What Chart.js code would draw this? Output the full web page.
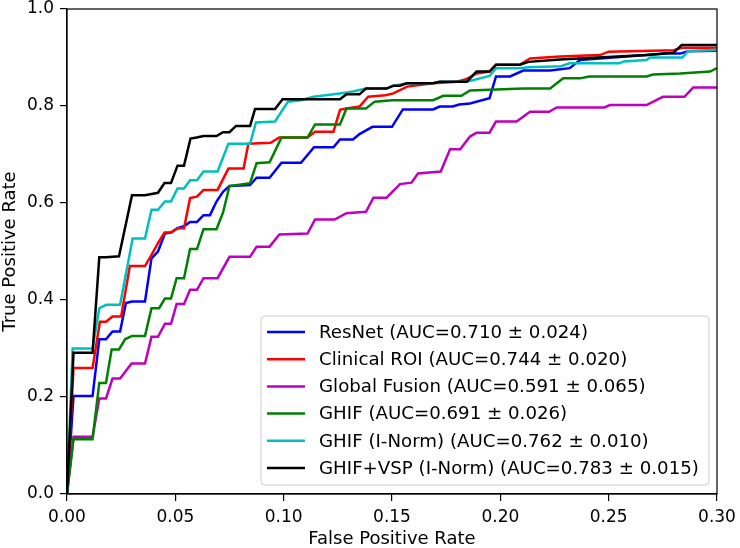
<!DOCTYPE html>
<html>
<head>
<meta charset="utf-8">
<script src="https://cdn.jsdelivr.net/npm/chart.js@4"></script>
<style>
  body { margin: 0; background: #fff; }
  #wrap { width: 740px; height: 548px; position: relative; }
</style>
</head>
<body>
<div id="wrap"><canvas id="rocChart"></canvas></div>
<script>
// ---------------- data (fpr, tpr) ----------------

const seriesLabels = [
  "ResNet (AUC=0.710 \u00b1 0.024)",
  "Clinical ROI (AUC=0.744 \u00b1 0.020)",
  "Global Fusion (AUC=0.591 \u00b1 0.065)",
  "GHIF (AUC=0.691 \u00b1 0.026)",
  "GHIF (I-Norm) (AUC=0.762 \u00b1 0.010)",
  "GHIF+VSP (I-Norm) (AUC=0.783 \u00b1 0.015)",
];
const seriesColors = ["#0000ff", "#ff0000", "#bf00bf", "#008000", "#00bfbf", "#000000"];

const xTicks = [0, 0.05, 0.1, 0.15, 0.2, 0.25, 0.3];
const yTicks = [0, 0.2, 0.4, 0.6, 0.8, 1.0];

const resnet = [[0,0],[0.003,0.202],[0.0118,0.202],[0.0149,0.319],[0.018,0.319],[0.021,0.335],[0.0245,0.335],[0.0272,0.394],[0.030,0.397],[0.036,0.397],[0.039,0.486],[0.042,0.50],[0.0452,0.537],[0.048,0.539],[0.051,0.548],[0.054,0.552],[0.0568,0.561],[0.060,0.561],[0.063,0.575],[0.066,0.575],[0.069,0.603],[0.072,0.623],[0.075,0.635],[0.0845,0.637],[0.0875,0.652],[0.0935,0.652],[0.099,0.683],[0.108,0.683],[0.114,0.715],[0.123,0.715],[0.126,0.731],[0.132,0.731],[0.135,0.742],[0.141,0.757],[0.150,0.757],[0.155,0.793],[0.169,0.793],[0.172,0.799],[0.178,0.799],[0.181,0.803],[0.186,0.805],[0.195,0.816],[0.198,0.861],[0.2045,0.861],[0.2106,0.873],[0.223,0.873],[0.232,0.878],[0.2368,0.895],[0.252,0.90],[0.2768,0.908],[0.283,0.908],[0.2866,0.913],[0.3,0.914]];

const clinicalRoi = [[0,0],[0.003,0.26],[0.0118,0.26],[0.0152,0.355],[0.018,0.355],[0.021,0.366],[0.025,0.366],[0.029,0.47],[0.036,0.47],[0.039,0.493],[0.042,0.517],[0.045,0.539],[0.048,0.539],[0.051,0.548],[0.054,0.548],[0.0568,0.61],[0.060,0.613],[0.063,0.627],[0.0695,0.627],[0.0745,0.671],[0.0815,0.671],[0.0837,0.722],[0.094,0.724],[0.098,0.735],[0.111,0.735],[0.1145,0.747],[0.123,0.747],[0.126,0.792],[0.129,0.795],[0.135,0.799],[0.139,0.819],[0.147,0.822],[0.1506,0.826],[0.157,0.84],[0.169,0.847],[0.18,0.85],[0.1845,0.856],[0.189,0.867],[0.195,0.871],[0.198,0.885],[0.209,0.885],[0.2137,0.898],[0.2275,0.902],[0.246,0.905],[0.25,0.912],[0.28,0.915],[0.2837,0.92],[0.3,0.92]];

const globalFusion = [[0,0],[0.003,0.118],[0.0118,0.118],[0.0149,0.197],[0.018,0.197],[0.021,0.238],[0.0245,0.238],[0.0298,0.269],[0.036,0.269],[0.039,0.324],[0.042,0.324],[0.0452,0.351],[0.048,0.351],[0.0506,0.392],[0.054,0.392],[0.0568,0.421],[0.060,0.421],[0.063,0.445],[0.0695,0.445],[0.075,0.489],[0.0845,0.489],[0.0875,0.51],[0.0935,0.51],[0.098,0.535],[0.111,0.537],[0.1145,0.566],[0.1235,0.566],[0.129,0.579],[0.138,0.582],[0.1414,0.611],[0.1475,0.611],[0.1537,0.639],[0.159,0.642],[0.162,0.661],[0.1725,0.665],[0.1768,0.711],[0.1815,0.711],[0.186,0.737],[0.189,0.745],[0.195,0.745],[0.198,0.768],[0.2075,0.768],[0.2137,0.788],[0.2225,0.788],[0.226,0.797],[0.248,0.797],[0.2506,0.802],[0.2675,0.802],[0.275,0.819],[0.285,0.819],[0.289,0.838],[0.3,0.838]];

const ghif = [[0,0],[0.003,0.113],[0.0118,0.113],[0.0149,0.229],[0.018,0.229],[0.0206,0.298],[0.024,0.298],[0.0268,0.319],[0.030,0.326],[0.036,0.326],[0.039,0.383],[0.0425,0.383],[0.0452,0.403],[0.048,0.403],[0.0506,0.445],[0.054,0.445],[0.0568,0.505],[0.060,0.505],[0.063,0.546],[0.069,0.546],[0.072,0.58],[0.075,0.635],[0.0845,0.641],[0.0875,0.682],[0.0935,0.684],[0.099,0.735],[0.111,0.735],[0.1145,0.762],[0.126,0.762],[0.129,0.795],[0.138,0.795],[0.142,0.809],[0.150,0.812],[0.169,0.812],[0.1737,0.821],[0.182,0.821],[0.186,0.832],[0.2106,0.836],[0.223,0.836],[0.229,0.857],[0.2368,0.857],[0.241,0.861],[0.2675,0.861],[0.2705,0.865],[0.283,0.867],[0.2968,0.871],[0.3,0.878]];

const ghifINorm = [[0,0],[0.0026,0.30],[0.0118,0.30],[0.0149,0.383],[0.018,0.39],[0.0245,0.39],[0.0303,0.527],[0.036,0.527],[0.039,0.586],[0.042,0.586],[0.0452,0.603],[0.048,0.603],[0.051,0.63],[0.054,0.63],[0.0568,0.647],[0.060,0.647],[0.063,0.665],[0.0695,0.665],[0.0745,0.722],[0.0845,0.722],[0.0872,0.766],[0.096,0.768],[0.102,0.809],[0.108,0.812],[0.1137,0.819],[0.126,0.826],[0.132,0.83],[0.138,0.836],[0.1475,0.836],[0.151,0.842],[0.157,0.847],[0.169,0.847],[0.172,0.85],[0.1845,0.85],[0.195,0.862],[0.198,0.878],[0.209,0.878],[0.213,0.88],[0.228,0.882],[0.232,0.888],[0.255,0.888],[0.257,0.892],[0.2675,0.895],[0.269,0.90],[0.284,0.90],[0.2866,0.913],[0.3,0.916]];

const ghifVsp = [[0,0],[0.003,0.291],[0.0118,0.291],[0.0149,0.488],[0.018,0.488],[0.024,0.49],[0.030,0.616],[0.036,0.616],[0.042,0.621],[0.045,0.641],[0.048,0.641],[0.051,0.677],[0.054,0.677],[0.057,0.733],[0.0598,0.735],[0.063,0.738],[0.069,0.738],[0.072,0.746],[0.075,0.746],[0.078,0.759],[0.0845,0.759],[0.0868,0.794],[0.096,0.794],[0.0995,0.814],[0.126,0.814],[0.129,0.824],[0.135,0.824],[0.138,0.836],[0.1475,0.836],[0.1506,0.842],[0.1537,0.842],[0.1568,0.847],[0.169,0.847],[0.172,0.85],[0.1845,0.85],[0.189,0.871],[0.195,0.871],[0.198,0.885],[0.209,0.885],[0.213,0.891],[0.2275,0.896],[0.2675,0.905],[0.28,0.91],[0.2837,0.926],[0.3,0.926]];

const allSeries = [resnet, clinicalRoi, globalFusion, ghif, ghifINorm, ghifVsp];

// ---------------- plugins ----------------

// box around the plot, like matplotlib spines
const frame = {
  id: "frame",
  afterDatasetsDraw(chart) {
    const { ctx, chartArea: a } = chart;
    ctx.save();
    ctx.strokeStyle = "#000";
    ctx.lineWidth = 1.2;
    ctx.strokeRect(a.left, a.top, a.right - a.left, a.bottom - a.top);
    ctx.restore();
  },
};

// legend drawn inside the plot, lower right
const insideLegend = {
  id: "insideLegend",
  afterDraw(chart) {
    const { ctx } = chart;
    const x0 = 261, y0 = 316, w = 448, h = 169;
    ctx.save();
    ctx.beginPath();
    ctx.roundRect(x0, y0, w, h, 4);
    ctx.fillStyle = "rgba(255,255,255,0.8)";
    ctx.fill();
    ctx.strokeStyle = "#cccccc";
    ctx.lineWidth = 1;
    ctx.stroke();
    ctx.font = "18.2px 'DejaVu Sans'";
    ctx.textBaseline = "middle";
    chart.data.datasets.forEach((ds, i) => {
      const y = 332 + i * 27.2;
      ctx.strokeStyle = ds.borderColor;
      ctx.lineWidth = 2.5;
      ctx.beginPath();
      ctx.moveTo(267, y);
      ctx.lineTo(305, y);
      ctx.stroke();
      ctx.fillStyle = "#000";
      ctx.fillText(ds.label, 319, y + 1);
    });
    ctx.restore();
  },
};

// ---------------- chart ----------------

const tickFont = { family: "'DejaVu Sans'", size: 17, lineHeight: 1.2 };
const titleFont = { family: "'DejaVu Sans'", size: 18 };

const datasets = allSeries.map((pts, i) => ({
  label: seriesLabels[i],
  data: pts.map((p) => ({ x: p[0], y: p[1] })),
  borderColor: seriesColors[i],
  backgroundColor: seriesColors[i],
  borderWidth: 2.5,
  pointRadius: 0,
  tension: 0,
  fill: false,
  order: allSeries.length - i,
}));

new Chart(document.getElementById("rocChart"), {
  type: "line",
  data: { datasets },
  options: {
    responsive: true,
    maintainAspectRatio: false,
    animation: false,
    layout: { padding: { top: 9, right: 23, left: 0, bottom: 0 } },
    plugins: { legend: { display: false }, tooltip: { enabled: false } },
    scales: {
      x: {
        type: "linear",
        min: 0,
        max: 0.3,
        afterFit: (s) => { s.height = 54; s.paddingLeft = 0; s.paddingRight = 0; },
        afterBuildTicks: (s) => { s.ticks = xTicks.map((v) => ({ value: v })); },
        ticks: { font: tickFont, color: "#000", padding: 6, maxRotation: 0,
                 callback: (v) => v.toFixed(2) },
        grid: { drawOnChartArea: false, drawTicks: true, tickLength: 7, color: "#000", lineWidth: 1.2 },
        border: { display: true, color: "#000", width: 1.2 },
        title: { display: true, text: "False Positive Rate", font: titleFont, color: "#000",
                 padding: { top: 0, bottom: -2 } },
      },
      y: {
        type: "linear",
        min: 0,
        max: 1,
        afterFit: (s) => { s.width = 67; s.paddingTop = 0; s.paddingBottom = 0; },
        afterBuildTicks: (s) => { s.ticks = yTicks.map((v) => ({ value: v })); },
        ticks: { font: tickFont, color: "#000", padding: 6,
                 callback: (v) => v.toFixed(1) },
        grid: { drawOnChartArea: false, drawTicks: true, tickLength: 7, color: "#000", lineWidth: 1.2 },
        border: { display: true, color: "#000", width: 1.2 },
        title: { display: true, text: "True Positive Rate", font: titleFont, color: "#000",
                 padding: { top: 0, bottom: 0 } },
      },
    },
  },
  plugins: [frame, insideLegend],
});
</script>
</body>
</html>
